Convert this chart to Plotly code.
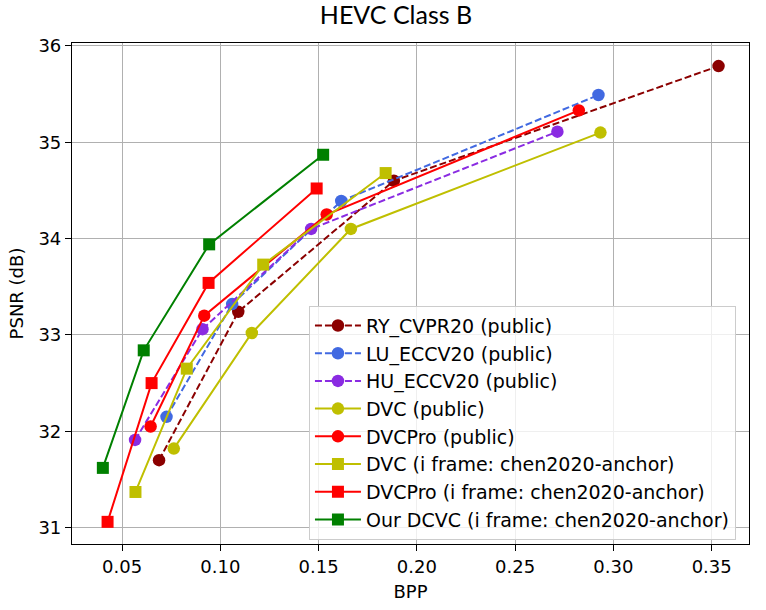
import plotly.graph_objects as go

# ---- data ----
series_names = [
    "RY_CVPR20 (public)",
    "LU_ECCV20 (public)",
    "HU_ECCV20 (public)",
    "DVC (public)",
    "DVCPro (public)",
    "DVC (i frame: chen2020-anchor)",
    "DVCPro (i frame: chen2020-anchor)",
    "Our DCVC (i frame: chen2020-anchor)",
]
ry_bpp = [0.0688, 0.1091, 0.1883, 0.3535]
ry_psnr = [31.70, 33.24, 34.60, 35.79]
lu_bpp = [0.0726, 0.1060, 0.1615, 0.2924]
lu_psnr = [32.15, 33.32, 34.39, 35.49]
hu_bpp = [0.0566, 0.0909, 0.1462, 0.2715]
hu_psnr = [31.91, 33.06, 34.10, 35.11]
dvc_bpp = [0.0763, 0.1160, 0.1664, 0.2934]
dvc_psnr = [31.82, 33.02, 34.10, 35.10]
dvcpro_bpp = [0.0645, 0.0918, 0.1541, 0.2824]
dvcpro_psnr = [32.05, 33.20, 34.25, 35.33]
dvc_i_bpp = [0.0568, 0.0829, 0.1218, 0.1841]
dvc_i_psnr = [31.37, 32.65, 33.73, 34.68]
dvcpro_i_bpp = [0.0426, 0.0650, 0.0940, 0.1490]
dvcpro_i_psnr = [31.06, 32.50, 33.54, 34.52]
dcvc_bpp = [0.0402, 0.0610, 0.0943, 0.1523]
dcvc_psnr = [31.62, 32.84, 33.94, 34.87]

x_ticks = [0.05, 0.10, 0.15, 0.20, 0.25, 0.30, 0.35]
y_ticks = [31, 32, 33, 34, 35, 36]

# ---- styles ----
styles = [
    ("#8B0000", "circle", "7px,3px"),
    ("#4169E1", "circle", "7px,3px"),
    ("#8A2BE2", "circle", "7px,3px"),
    ("#BFBF00", "circle", "solid"),
    ("#FF0000", "circle", "solid"),
    ("#BFBF00", "square", "solid"),
    ("#FF0000", "square", "solid"),
    ("#008000", "square", "solid"),
]
data = [
    (ry_bpp, ry_psnr), (lu_bpp, lu_psnr), (hu_bpp, hu_psnr),
    (dvc_bpp, dvc_psnr), (dvcpro_bpp, dvcpro_psnr),
    (dvc_i_bpp, dvc_i_psnr), (dvcpro_i_bpp, dvcpro_i_psnr),
    (dcvc_bpp, dcvc_psnr),
]

fig = go.Figure()
for name, (xs, ys), (col, sym, dash) in zip(series_names, data, styles):
    fig.add_trace(go.Scatter(
        x=xs, y=ys, name=name, mode="lines+markers",
        line=dict(color=col, width=2, dash=dash),
        marker=dict(color=col, symbol=sym, size=12.5 if sym == "circle" else 12),
    ))

tick_font = dict(family="DejaVu Sans", size=18, color="black")
fig.update_layout(
    width=766, height=610,
    margin=dict(l=72, r=17, t=43, b=66),
    paper_bgcolor="white", plot_bgcolor="white",
    title=dict(text="HEVC Class B", x=396 / 766, xanchor="center",
               y=1 - 6 / 610, yanchor="top",
               font=dict(family="Lato", size=25, color="black")),
    font=dict(family="DejaVu Sans", size=18, color="black"),
    xaxis=dict(range=[0.0245, 0.369], tickvals=x_ticks, tickformat=".2f",
               showgrid=True, gridcolor="#b0b0b0", gridwidth=1,
               showline=True, linecolor="black", linewidth=1.2, mirror=True,
               ticks="outside", ticklen=6, tickcolor="black", tickfont=tick_font,
               zeroline=False,
               title=dict(text="BPP", font=tick_font, standoff=9)),
    yaxis=dict(range=[30.83, 36.03], tickvals=y_ticks,
               showgrid=True, gridcolor="#b0b0b0", gridwidth=1,
               showline=True, linecolor="black", linewidth=1.2, mirror=True,
               ticks="outside", ticklen=6, tickcolor="black", tickfont=tick_font,
               zeroline=False,
               title=dict(text="PSNR (dB)", font=tick_font, standoff=10)),
    legend=dict(x=0.35, y=0.4757, xanchor="left", yanchor="top",
                bgcolor="rgba(255,255,255,0.8)", bordercolor="#cccccc",
                borderwidth=1, font=dict(family="DejaVu Sans", size=19, color="black"),
                itemwidth=46, tracegroupgap=0),
    showlegend=True,
)

fig.write_html("out.html", config={"displayModeBar": False},
               post_script="document.body.style.margin='0';")
